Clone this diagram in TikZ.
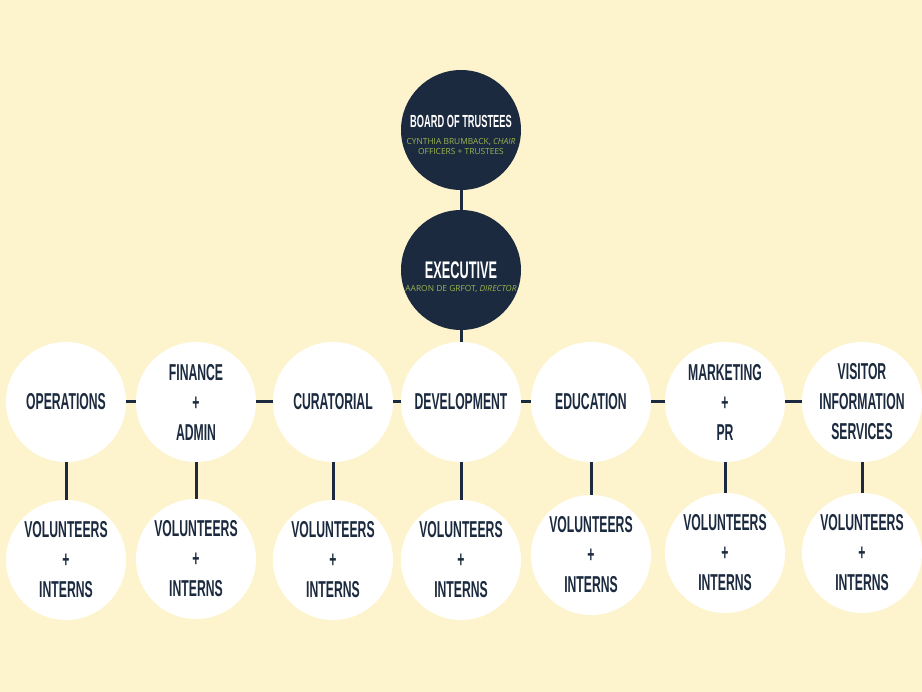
\documentclass[tikz,border=0pt]{standalone}
\usepackage{fontspec}
\newfontfamily\bebas[FakeStretch=0.53]{Liberation Sans}
\newfontfamily\opensans{Open Sans}
\definecolor{navy}{RGB}{27,42,63}
\definecolor{cream}{RGB}{253,244,206}
\definecolor{sage}{RGB}{155,180,80}
\tikzset{
  dark/.style={circle, fill=navy, minimum size=120pt, inner sep=0pt},
  unit/.style={circle, fill=white, minimum size=120pt, inner sep=0pt, align=center,
    text=navy, font=\bebas\bfseries\fontsize{23}{30}\selectfont},
  head/.style={text=white, inner sep=0pt, font=\bebas\bfseries\fontsize{17.5}{18}\selectfont},
  bighead/.style={head, font=\bebas\bfseries\fontsize{24}{24}\selectfont},
  sub/.style={text=sage, inner sep=0pt, align=center, font=\opensans\fontsize{8.4}{10}\selectfont},
  link/.style={navy, line width=3pt}
}
\begin{document}
\begin{tikzpicture}[x=1pt,y=-1pt]
\fill[cream] (0,0) rectangle (922,692);
\useasboundingbox (0,0) rectangle (922,692);

% top of the chart
\node[dark] (board) at (461,130) {};
\node[head] (boardname) at (461,121) {BOARD OF TRUSTEES};
\node[sub] (boardsub) at (461,147) {CYNTHIA BRUMBACK, \textit{CHAIR}\\OFFICERS + TRUSTEES};
\node[dark] (exec) at (461,270) {};
\node[bighead] (execname) at (461,270) {EXECUTIVE};
\node[sub] (execsub) at (461,289) {AARON DE GRFOT, \textit{DIRECTOR}};

% departments
\node[unit] (ops) at (66,402) {OPERATIONS};
\node[unit] (fin) at (196,402) {FINANCE\\+\\ADMIN};
\node[unit] (cur) at (333,402) {CURATORIAL};
\node[unit] (dev) at (461,402) {DEVELOPMENT};
\node[unit] (edu) at (591,402) {EDUCATION};
\node[unit] (mkt) at (725,402) {MARKETING\\+\\PR};
\node[unit] (vis) at (862,402) {VISITOR\\INFORMATION\\SERVICES};

% volunteers
\node[unit] (vol1) at (66,560) {VOLUNTEERS\\+\\INTERNS};
\node[unit] (vol2) at (196,559) {VOLUNTEERS\\+\\INTERNS};
\node[unit] (vol3) at (333,560) {VOLUNTEERS\\+\\INTERNS};
\node[unit] (vol4) at (461,560) {VOLUNTEERS\\+\\INTERNS};
\node[unit] (vol5) at (591,555) {VOLUNTEERS\\+\\INTERNS};
\node[unit] (vol6) at (725,553) {VOLUNTEERS\\+\\INTERNS};
\node[unit] (vol7) at (862,553) {VOLUNTEERS\\+\\INTERNS};

\draw[link] (board) -- (exec);
\draw[link] (exec) -- (dev);
\draw[link] (ops) -- (fin);
\draw[link] (fin) -- (cur);
\draw[link] (cur) -- (dev);
\draw[link] (dev) -- (edu);
\draw[link] (edu) -- (mkt);
\draw[link] (mkt) -- (vis);
\draw[link] (ops) -- (vol1);
\draw[link] (fin) -- (vol2);
\draw[link] (cur) -- (vol3);
\draw[link] (dev) -- (vol4);
\draw[link] (edu) -- (vol5);
\draw[link] (mkt) -- (vol6);
\draw[link] (vis) -- (vol7);
\end{tikzpicture}
\end{document}
